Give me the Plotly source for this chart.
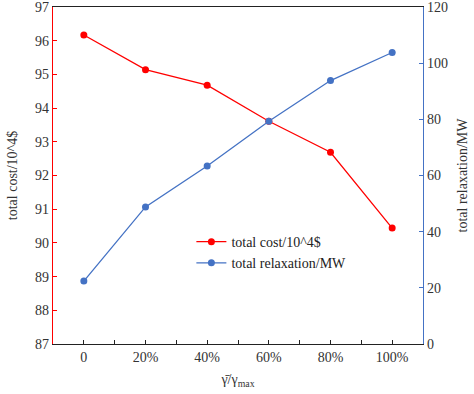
import plotly.graph_objects as go

categories = ["0", "20%", "40%", "60%", "80%", "100%"]
total_cost = [96.17, 95.14, 94.68, 93.61, 92.69, 90.44]
total_relaxation = [22.4, 48.8, 63.4, 79.3, 93.8, 103.8]
cost_ticks = [87, 88, 89, 90, 91, 92, 93, 94, 95, 96, 97]
relax_ticks = [0, 20, 40, 60, 80, 100, 120]

idx = list(range(len(categories)))
FONT = "Liberation Serif, Times New Roman, serif"
RED = "#FF0000"
BLUE = "#4472C4"

fig = go.Figure()
fig.add_trace(go.Scatter(
    x=idx, y=total_cost, name="total cost/10^4$", mode="lines+markers",
    line=dict(color=RED, width=1.3), marker=dict(color=RED, size=7),
))
fig.add_trace(go.Scatter(
    x=idx, y=total_relaxation, name="total relaxation/MW", mode="lines+markers",
    line=dict(color=BLUE, width=1.3), marker=dict(color=BLUE, size=7), yaxis="y2",
))

fig.update_layout(
    width=474, height=394,
    margin=dict(l=53, r=51, t=7, b=50),
    plot_bgcolor="white", paper_bgcolor="white",
    font=dict(family=FONT, size=14, color="#333333"),
    showlegend=True,
    legend=dict(x=0.374, y=0.35, xanchor="left", yanchor="top",
                bgcolor="rgba(0,0,0,0)", font=dict(size=14, color="#222222"),
                tracegroupgap=0, itemwidth=30),
    xaxis=dict(
        range=[-0.5, 5.5], tickmode="array", tickvals=idx, ticktext=categories,
        showline=True, linecolor="#222222", linewidth=1.2, mirror=True,
        ticks="inside", ticklen=4, tickcolor="#222222",
        minor=dict(dtick=0.5, tick0=0, ticks="inside", ticklen=4, tickcolor="#222222"),
        showgrid=False, zeroline=False, automargin=False,
        title=dict(text="γ̄/γ<sub>max</sub>", font=dict(size=14), standoff=10),
    ),
    yaxis=dict(
        range=[87, 97], tickmode="array", tickvals=cost_ticks,
        showline=True, linecolor=RED, linewidth=1.2, ticklabeloverflow="allow",
        ticks="inside", ticklen=4, tickcolor=RED, showgrid=False, zeroline=False,
        automargin=False,
        title=dict(text="total cost/10^4$", font=dict(size=14), standoff=14),
    ),
    yaxis2=dict(
        range=[0, 120], tickmode="array", tickvals=relax_ticks,
        overlaying="y", side="right", ticklabeloverflow="allow",
        showline=True, linecolor=BLUE, linewidth=1.2,
        ticks="inside", ticklen=4, tickcolor=BLUE, showgrid=False, zeroline=False,
        automargin=False,
        title=dict(text="total relaxation/MW", font=dict(size=14), standoff=10),
    ),
)

fig.write_html(
    "out.html",
    config={"displayModeBar": False},
    post_script="document.body.style.margin='0';document.body.style.overflow='hidden';",
)
